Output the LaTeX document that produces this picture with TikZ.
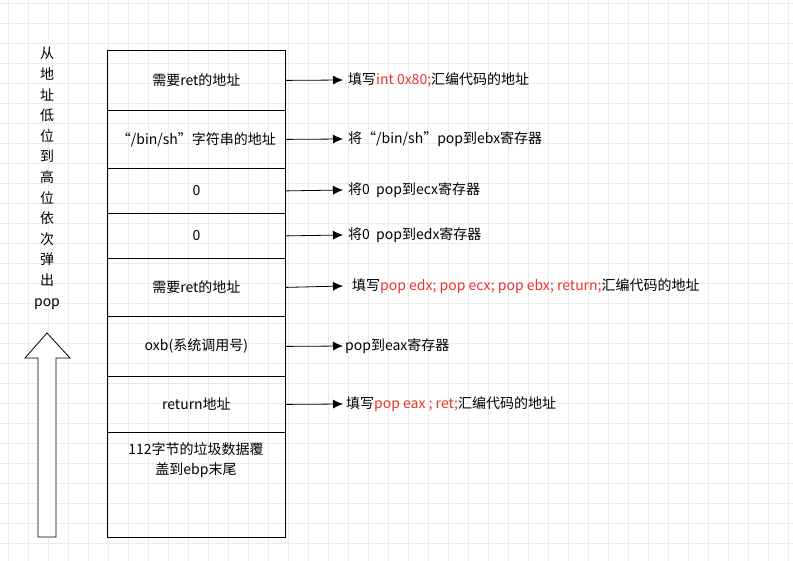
\documentclass[tikz,border=0pt]{standalone}
\usepackage{fontspec}
\usetikzlibrary{arrows.meta}
\setmainfont{Noto Sans CJK SC}
\definecolor{rd}{RGB}{235,50,50}
\definecolor{gridc}{RGB}{235,235,235}
\begin{document}
\begin{tikzpicture}[x=1pt,y=-1pt,font=\fontsize{14}{16}\selectfont,
  cell/.style={draw,thick,minimum width=178pt,anchor=north west,inner sep=0pt},
  lab/.style={anchor=west,inner sep=0pt},
  arr/.style={-{Latex[length=10pt,width=9pt]},thick}]
\useasboundingbox (0,0) rectangle (793,561);
\fill[white] (0,0) rectangle (793,561);
\foreach \i in {0,20,...,780} \draw[gridc] (\i+8,0) -- (\i+8,561);
\foreach \i in {0,20,...,560} \draw[gridc] (0,\i+3) -- (793,\i+3);
\node[cell,minimum height=60pt] (r1) at (107,50) {需要ret的地址};
\node[cell,minimum height=58pt] (r2) at (107,110) {“/bin/sh”字符串的地址};
\node[cell,minimum height=45pt] (r3) at (107,168) {0};
\node[cell,minimum height=45pt] (r4) at (107,213) {0};
\node[cell,minimum height=58pt] (r5) at (107,258) {需要ret的地址};
\node[cell,minimum height=60pt] (r6) at (107,316) {oxb(系统调用号)};
\node[cell,minimum height=56pt] (r7) at (107,376) {return地址};
\node[cell,minimum height=105pt] (r8) at (107,432) {};
\node[anchor=north,align=center,font=\fontsize{14}{20}\selectfont] (t8) at (196,439) {112字节的垃圾数据覆\\盖到ebp末尾};
\coordinate (e1) at (343,80); \coordinate (e2) at (343,139); \coordinate (e3) at (343,190);
\coordinate (e4) at (343,235); \coordinate (e5) at (343,286); \coordinate (e6) at (343,346);
\coordinate (e7) at (343,404);
\foreach \k in {1,...,7} \draw[arr] (r\k.east) -- (e\k);
\node[lab] (l1) at (348,80) {填写\textcolor{rd}{int 0x80;}汇编代码的地址};
\node[lab] (l2) at (348,139) {将“/bin/sh”pop到ebx寄存器};
\node[lab] (l3) at (348,190) {将0\ \ pop到ecx寄存器};
\node[lab] (l4) at (348,235) {将0\ \ pop到edx寄存器};
\node[lab] (l5) at (352,286) {填写\textcolor{rd}{pop edx; pop ecx; pop ebx; return;}汇编代码的地址};
\node[lab] (l6) at (345,346) {pop到eax寄存器};
\node[lab] (l7) at (346,404) {填写\textcolor{rd}{pop eax ; ret;}汇编代码的地址};
\node[anchor=north,align=center,font=\fontsize{14}{20.6}\selectfont] (vt) at (47,44) {从\\地\\址\\低\\位\\到\\高\\位\\依\\次\\弹\\出\\pop};
\draw[thick,fill=white] (38,537) -- (38,358) -- (25,358) -- (47,333) -- (70,358) -- (56,358) -- (56,537) -- cycle;
\end{tikzpicture}
\end{document}
